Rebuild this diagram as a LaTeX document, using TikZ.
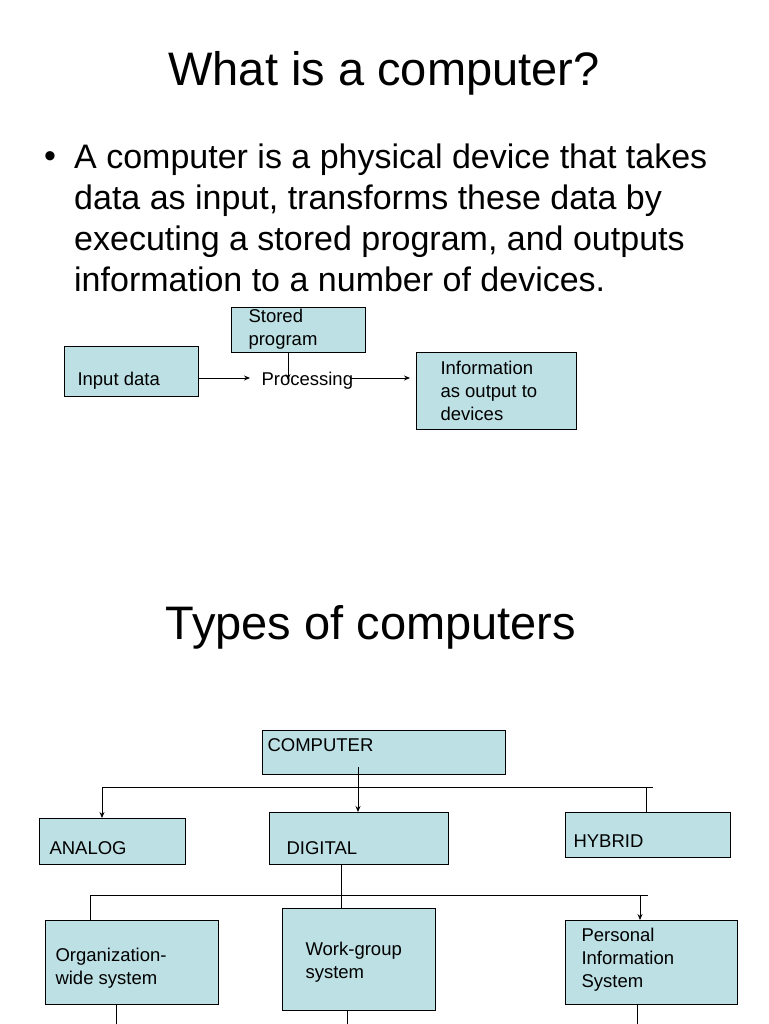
\documentclass[tikz,border=0pt]{standalone}
\usepackage{fontspec}
\setmainfont{Liberation Sans}
\usetikzlibrary{arrows.meta}
\definecolor{boxfill}{HTML}{BDE0E4}
\tikzset{
  box/.style={draw, fill=boxfill, line width=0.8pt},
  lbl/.style={anchor=west, font=\fontsize{18.5}{23}\selectfont, align=left},
  link/.style={line width=0.8pt},
  arr/.style={line width=0.8pt, -{Stealth[length=6pt,width=5pt]}}
}
\begin{document}
\begin{tikzpicture}[x=1pt, y=-1pt]
  \useasboundingbox (0,0) rectangle (768,1024);
  % titles and bullet
  \node[font=\fontsize{47}{54}\selectfont] (title1) at (384,73) {What is a computer?};
  \node[font=\fontsize{34}{41}\selectfont] (bullet) at (50,160) {•};
  \node[anchor=north west, align=left, inner sep=0pt,
        font=\fontsize{34}{41}\selectfont] (body) at (74,144)
    {A computer is a physical device that takes\\
     data as input, transforms these data by\\
     executing a stored program, and outputs\\
     information to a number of devices.};
  % input -> processing -> output
  \draw[box] (64,346) rectangle (198,396);
  \coordinate (inR) at (198,378);
  \node[lbl] (input) at (74,381) {Input data};
  \draw[box] (231,307) rectangle (365,352);
  \node[lbl] (stored) at (245,329) {Stored\\program};
  \coordinate (storedB) at (288,352);
  \node[lbl] (proc) at (258,381) {Processing};
  \draw[box] (416,352) rectangle (576,429);
  \node[lbl] (info) at (437,391) {Information\\as output to\\devices};
  \coordinate (infoL) at (410,378);
  \coordinate (procL) at (250,378);
  \coordinate (procR) at (350,378);
  \coordinate (procT) at (288,380);
  \draw[arr] (inR) -- (procL);
  \draw[arr] (procR) -- (infoL);
  \draw[arr] (storedB) -- (procT);
  % types tree
  \node[font=\fontsize{47}{54}\selectfont] (title2) at (371,627) {Types of computers};
  \draw[box] (262,730) rectangle (505,774);
  \node[lbl] (comp) at (264,745) {COMPUTER};
  \draw[box] (39,818) rectangle (185,864);
  \node[lbl] (analog) at (46,848) {ANALOG};
  \draw[box] (269,812) rectangle (448,864);
  \node[lbl] (digital) at (283,848) {DIGITAL};
  \draw[box] (565,812) rectangle (730,857);
  \node[lbl] (hybrid) at (570,841) {HYBRID};
  \draw[box] (45,920) rectangle (218,1004);
  \node[lbl] (org) at (52,968) {Organization-\\wide system};
  \draw[box] (282,908) rectangle (435,1010);
  \node[lbl] (work) at (302,962) {Work-group\\system};
  \draw[box] (565,920) rectangle (737,1004);
  \node[lbl] (pers) at (578,960) {Personal\\Information\\System};
  \draw[link] (102,787) -- (653,787);
  \draw[arr] (358,767) -- (358,812);
  \draw[arr] (102,787) -- (102,818);
  \draw[link] (646,787) -- (646,812);
  \draw[link] (341,864) -- (341,908);
  \draw[link] (90,895) -- (648,895);
  \draw[link] (90,895) -- (90,920);
  \draw[arr] (640,895) -- (640,920);
  \draw[link] (116,1004) -- (116,1024);
  \draw[link] (347,1010) -- (347,1024);
  \draw[link] (637,1004) -- (637,1024);
\end{tikzpicture}
\end{document}
